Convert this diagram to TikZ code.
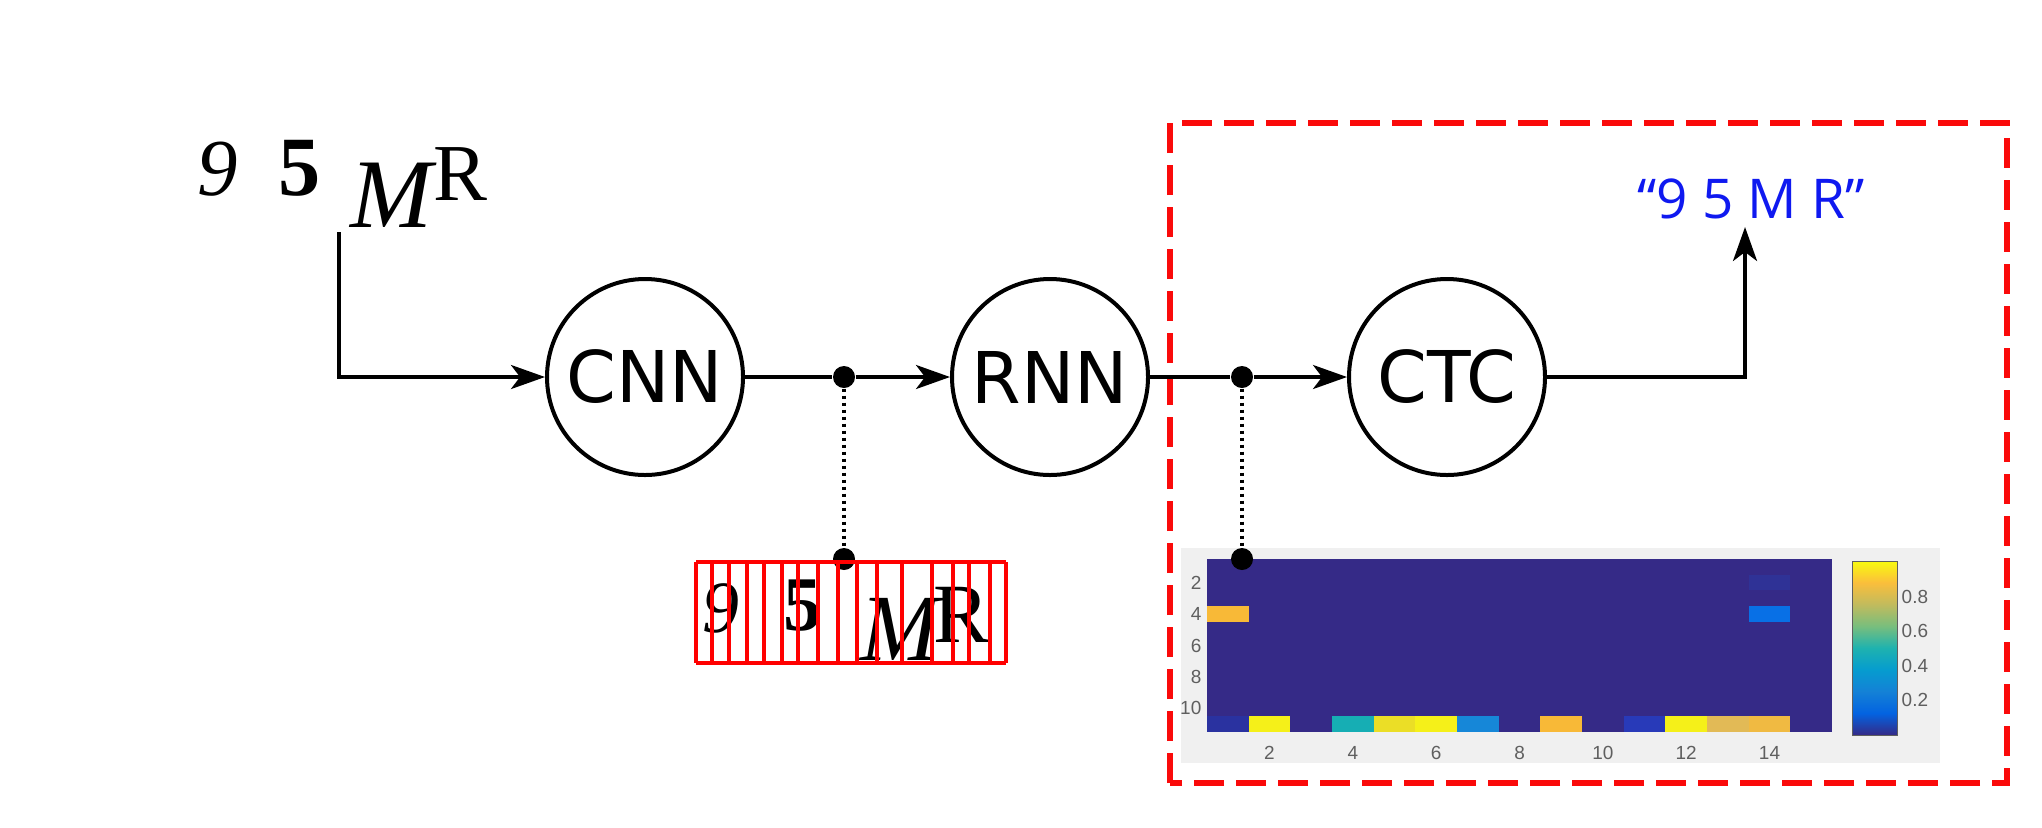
\documentclass[tikz,border=0pt]{standalone}
\usepackage{fontspec}
\setmainfont{Liberation Serif}
\newfontfamily\unitfont{DejaVu Sans}
\newfontfamily\outfont{Open Sans}
\newfontfamily\axisfont{Liberation Sans}
\usetikzlibrary{arrows.meta}
\definecolor{plotbg}{RGB}{53,42,135}
\definecolor{panelgray}{RGB}{240,240,240}
\definecolor{tickgray}{RGB}{95,95,95}
\definecolor{boxred}{RGB}{250,10,10}
\definecolor{outblue}{RGB}{15,25,240}
\definecolor{hmyellow}{RGB}{245,240,25}
\definecolor{hmlemon}{RGB}{235,222,38}
\definecolor{hmorange}{RGB}{248,185,55}
\definecolor{hmtan}{RGB}{226,186,86}
\definecolor{hmamber}{RGB}{240,186,66}
\definecolor{hmteal}{RGB}{22,174,180}
\definecolor{hmazure}{RGB}{22,135,216}
\definecolor{hmblue}{RGB}{8,112,230}
\definecolor{hmindigo}{RGB}{40,58,185}
\definecolor{hmnavy}{RGB}{42,50,160}
\definecolor{hmdusk}{RGB}{47,50,150}
\definecolor{pa}{RGB}{53,42,135}
\definecolor{pb}{RGB}{3,99,225}
\definecolor{pc}{RGB}{20,129,214}
\definecolor{pd}{RGB}{6,156,207}
\definecolor{pe}{RGB}{30,178,175}
\definecolor{pf}{RGB}{120,190,125}
\definecolor{pg}{RGB}{193,187,93}
\definecolor{ph}{RGB}{250,190,60}
\definecolor{pi}{RGB}{249,251,14}
\begin{document}
\begin{tikzpicture}[
    unit/.style={circle, draw, line width=0.040000cm, minimum size=1.960000cm, inner sep=0pt,
      font=\unitfont\fontsize{20.3}{24}\selectfont},
    flow/.style={line width=0.035000cm, -{Stealth[length=0.340000cm,width=0.240000cm,inset=0.090000cm]}},
    link/.style={line width=0.035000cm},
    tap/.style={line width=0.035000cm, dash pattern=on 0.035000cm off 0.035000cm},
    joint/.style={circle, fill, inner sep=0pt, minimum size=0.220000cm},
    glyph/.style={inner sep=0pt, anchor=base},
    axis/.style={inner sep=0pt, text=tickgray, font=\axisfont\fontsize{5.4}{6}\selectfont},
  ]
            \useasboundingbox (0.000000,0.000000) rectangle (20.420000,8.270000);

            % Input word image
            \node (in9) [glyph, font=\itshape\fontsize{23}{28}\selectfont] at (2.180000,6.320000) {9};
            \node (in5) [glyph, font=\bfseries\fontsize{24}{28}\selectfont] at (3.000000,6.320000) {5};
            \node (inM) [glyph, font=\itshape\fontsize{28}{32}\selectfont] at (3.910000,6.000000) {M};
            \node (inR) [glyph, font=\fontsize{23}{28}\selectfont] at (4.600000,6.270000) {R};
            \coordinate (src) at (3.390000,5.950000);

            % Red dashed box round the CTC part
            \draw [boxred, line width=0.060000cm, dash pattern=on 0.300000cm off 0.120000cm]
              (11.700000,0.440000) rectangle (20.070000,7.040000);%

            % Units
            \node (cnn) [unit] at (6.450000,4.500000) {CNN};
            \node (rnn) [unit] at (10.500000,4.500000) {RNN};
            \node (ctc) [unit] at (14.470000,4.500000) {CTC};

            % Junction points and their taps
            \node (j1) [joint] at (8.440000,4.500000) {};
            \node (j2) [joint] at (12.420000,4.500000) {};

            % Drawing the flow
            \draw [flow] (src) |- (cnn);%
            \draw [link] (cnn) -- (j1);%
            \draw [flow] (j1) -- (rnn);%
            \draw [link] (rnn) -- (j2);%
            \draw [flow] (j2) -- (ctc);%
            \coordinate (tgt) at (17.450000,6.000000);
            \draw [flow] (ctc) -| (tgt);%

            % Output label
            \node (out) [inner sep=0pt, anchor=base, text=outblue, font=\outfont\fontsize{15.6}{19}\selectfont]
              at (17.510000,6.090000) {“9 5 M R”};

            % Feature columns over the word
            \node (ft9) [glyph, font=\itshape\fontsize{21}{26}\selectfont] at (7.210000,1.950000) {9};
            \node (ft5) [glyph, font=\bfseries\fontsize{22}{26}\selectfont] at (8.030000,1.970000) {5};
            \node (ftM) [glyph, font=\itshape\fontsize{27}{32}\selectfont] at (9.000000,1.670000) {M};
            \node (ftR) [glyph, font=\fontsize{24}{28}\selectfont] at (9.620000,1.850000) {R};
            \node (j1b) [joint] at (8.440000,2.680000) {};
            \draw [tap] (j1) -- (j1b);%
            \draw [red, line width=0.045000cm] (6.960000,2.650000) -- (10.060000,2.650000);%
            \draw [red, line width=0.045000cm] (6.960000,1.640000) -- (10.060000,1.640000);%
            \draw [red, line width=0.045000cm] (6.960000,2.650000) -- (6.960000,1.640000);%
            \draw [red, line width=0.045000cm] (7.120000,2.650000) -- (7.120000,1.640000);%
            \draw [red, line width=0.045000cm] (7.290000,2.650000) -- (7.290000,1.640000);%
            \draw [red, line width=0.045000cm] (7.470000,2.650000) -- (7.470000,1.640000);%
            \draw [red, line width=0.045000cm] (7.640000,2.650000) -- (7.640000,1.640000);%
            \draw [red, line width=0.045000cm] (7.820000,2.650000) -- (7.820000,1.640000);%
            \draw [red, line width=0.045000cm] (7.980000,2.650000) -- (7.980000,1.640000);%
            \draw [red, line width=0.045000cm] (8.180000,2.650000) -- (8.180000,1.640000);%
            \draw [red, line width=0.045000cm] (8.380000,2.650000) -- (8.380000,1.640000);%
            \draw [red, line width=0.045000cm] (8.570000,2.650000) -- (8.570000,1.640000);%
            \draw [red, line width=0.045000cm] (8.770000,2.650000) -- (8.770000,1.640000);%
            \draw [red, line width=0.045000cm] (9.020000,2.650000) -- (9.020000,1.640000);%
            \draw [red, line width=0.045000cm] (9.320000,2.650000) -- (9.320000,1.640000);%
            \draw [red, line width=0.045000cm] (9.530000,2.650000) -- (9.530000,1.640000);%
            \draw [red, line width=0.045000cm] (9.690000,2.650000) -- (9.690000,1.640000);%
            \draw [red, line width=0.045000cm] (9.900000,2.650000) -- (9.900000,1.640000);%
            \draw [red, line width=0.045000cm] (10.060000,2.650000) -- (10.060000,1.640000);%

            % CTC probability map
            \fill [panelgray] (11.810000,0.640000) rectangle (19.400000,2.790000);%
            \fill [plotbg] (12.070000,0.950000) rectangle (18.320000,2.680000);%
            \fill [hmdusk] (17.486667,2.365455) rectangle (17.903333,2.522727);%
            \fill [hmorange] (12.070000,2.050909) rectangle (12.486667,2.208182);%
            \fill [hmblue] (17.486667,2.050909) rectangle (17.903333,2.208182);%
            \fill [hmnavy] (12.070000,0.950000) rectangle (12.486667,1.107273);%
            \fill [hmyellow] (12.486667,0.950000) rectangle (12.903333,1.107273);%
            \fill [hmteal] (13.320000,0.950000) rectangle (13.736667,1.107273);%
            \fill [hmlemon] (13.736667,0.950000) rectangle (14.153333,1.107273);%
            \fill [hmyellow] (14.153333,0.950000) rectangle (14.570000,1.107273);%
            \fill [hmazure] (14.570000,0.950000) rectangle (14.986667,1.107273);%
            \fill [hmorange] (15.403333,0.950000) rectangle (15.820000,1.107273);%
            \fill [hmindigo] (16.236667,0.950000) rectangle (16.653333,1.107273);%
            \fill [hmyellow] (16.653333,0.950000) rectangle (17.070000,1.107273);%
            \fill [hmtan] (17.070000,0.950000) rectangle (17.486667,1.107273);%
            \fill [hmamber] (17.486667,0.950000) rectangle (17.903333,1.107273);%
            \node (ly2) [axis, anchor=east] at (12.020000,2.444000) {2};
            \node (ly4) [axis, anchor=east] at (12.020000,2.129000) {4};
            \node (ly6) [axis, anchor=east] at (12.020000,1.815000) {6};
            \node (ly8) [axis, anchor=east] at (12.020000,1.500000) {8};
            \node (ly10) [axis, anchor=east] at (12.020000,1.186000) {10};
            \node (lx2) [axis] at (12.695000,0.740000) {2};
            \node (lx4) [axis] at (13.528000,0.740000) {4};
            \node (lx6) [axis] at (14.362000,0.740000) {6};
            \node (lx8) [axis] at (15.195000,0.740000) {8};
            \node (lx10) [axis] at (16.028000,0.740000) {10};
            \node (lx12) [axis] at (16.862000,0.740000) {12};
            \node (lx14) [axis] at (17.695000,0.740000) {14};

            % Colour bar
            \shade [bottom color=pa, top color=pb] (18.520000,0.920000) rectangle (18.970000,1.137500);%
            \shade [bottom color=pb, top color=pc] (18.520000,1.137500) rectangle (18.970000,1.355000);%
            \shade [bottom color=pc, top color=pd] (18.520000,1.355000) rectangle (18.970000,1.572500);%
            \shade [bottom color=pd, top color=pe] (18.520000,1.572500) rectangle (18.970000,1.790000);%
            \shade [bottom color=pe, top color=pf] (18.520000,1.790000) rectangle (18.970000,2.007500);%
            \shade [bottom color=pf, top color=pg] (18.520000,2.007500) rectangle (18.970000,2.225000);%
            \shade [bottom color=pg, top color=ph] (18.520000,2.225000) rectangle (18.970000,2.442500);%
            \shade [bottom color=ph, top color=pi] (18.520000,2.442500) rectangle (18.970000,2.660000);%
            \draw [tickgray, line width=0.010000cm] (18.520000,0.920000) rectangle (18.970000,2.660000);%
            \node (cb8) [axis, anchor=west] at (19.010000,2.300000) {0.8};
            \node (cb6) [axis, anchor=west] at (19.010000,1.960000) {0.6};
            \node (cb4) [axis, anchor=west] at (19.010000,1.610000) {0.4};
            \node (cb2) [axis, anchor=west] at (19.010000,1.270000) {0.2};

            % Tap onto the map
            \node (j2b) [joint] at (12.420000,2.680000) {};
            \draw [tap] (j2) -- (j2b);%
\end{tikzpicture}
\end{document}
